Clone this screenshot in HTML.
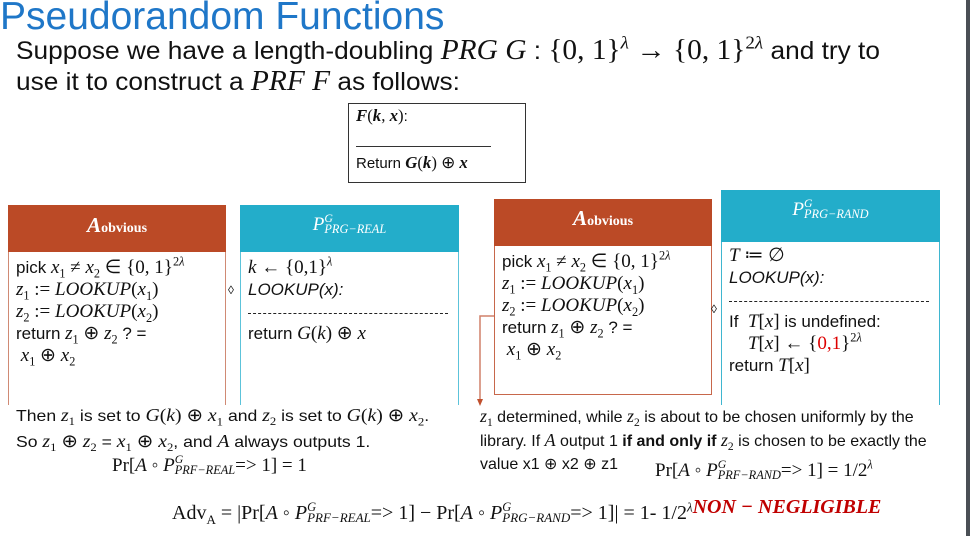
<!DOCTYPE html>
<html><head><meta charset="utf-8">
<style>
body{margin:0;width:970px;height:536px;position:relative;background:#fff;overflow:hidden;font-family:"Liberation Sans",sans-serif;color:#111}
.a{position:absolute;white-space:nowrap}
.m{font-family:"Liberation Serif",serif;font-style:italic;font-size:112%}
.r{font-family:"Liberation Serif",serif;font-size:112%}
.r .m,.m .r,.r .r{font-size:100%}
sub.r,sup.r{font-size:72%}
.hd{position:absolute;color:#fff;text-align:center}
.box{position:absolute;box-sizing:border-box}
.sx{transform-origin:0 0;display:inline-block}
sub,sup{font-size:65%;line-height:0}
.pp{display:inline-block;position:relative}
.pp .g{position:absolute;left:0;top:-2px;font-size:62%}
.pp .s{font-size:65%;vertical-align:-3px}
.dl{display:inline-block;width:200px;height:12px;border-bottom:1px dashed #222;vertical-align:top}
</style></head><body>
<div class="a" style="left:0;top:-5px;font-size:39px;color:#1f77c8">Pseudorandom Functions</div>
<div class="a" style="left:16px;top:35px;font-size:25px"><span class="sx" style="transform:scaleX(1.05)">Suppose we have a length-doubling <span class="m">PRG G</span> : <span class="r">{0, 1}<sup><i>λ</i></sup> → {0, 1}<sup>2<i>λ</i></sup></span> and try to</span></div>
<div class="a" style="left:16px;top:66px;font-size:25px"><span class="sx" style="transform:scaleX(1.05)">use it to construct a <span class="m">PRF F</span> as follows:</span></div>

<div class="box" style="left:348px;top:103px;width:178px;height:80px;border:1.5px solid #333"></div>
<div class="a" style="left:356px;top:106px;font-size:15px"><b class="m">F</b><span class="r">(<b><i>k</i></b>, <b><i>x</i></b>)</span>:</div>
<div class="a" style="left:356px;top:146px;width:135px;border-top:1px solid #333"></div>
<div class="a" style="left:356px;top:152px;font-size:15px">Return <b class="m">G</b><span class="r">(<b><i>k</i></b>) ⊕ <b><i>x</i></b></span></div>

<!-- left pair -->
<div class="box" style="left:8px;top:205px;width:218px;height:200px;border:1.5px solid #d08a74;border-bottom:none"></div>
<div class="box" style="left:8px;top:205px;width:218px;height:47px;background:#bb4a26"></div>
<div class="hd" style="left:8px;top:213px;width:218px;font-size:19px"><b class="m">A</b><b class="r" style="font-size:14px">obvious</b></div>
<div class="box" style="left:240px;top:205px;width:219px;height:200px;border:1.5px solid #5cc3da;border-bottom:none"></div>
<div class="box" style="left:240px;top:205px;width:219px;height:47px;background:#23adca"></div>
<div class="hd" style="left:240px;top:214px;width:219px;font-size:19px;font-family:'Liberation Serif',serif;font-style:italic">P<span class="pp"><span class="g">G</span><span class="s">PRG−REAL</span></span></div>
<div class="a" style="left:16px;top:257px;font-size:17px;line-height:22px">pick <span class="m">x</span><sub class="r">1</sub> <span class="r">≠</span> <span class="m">x</span><sub class="r">2</sub> <span class="r">∈ {0, 1}<sup>2<i>λ</i></sup></span><br>
<span class="m">z</span><sub class="r">1</sub> <span class="r">:=</span> <span class="m">LOOKUP</span><span class="r">(<i>x</i><sub>1</sub>)</span><br>
<span class="m">z</span><sub class="r">2</sub> <span class="r">:=</span> <span class="m">LOOKUP</span><span class="r">(<i>x</i><sub>2</sub>)</span><br>
return <span class="m">z</span><sub class="r">1</sub> <span class="r">⊕</span> <span class="m">z</span><sub class="r">2</sub> ? =<br>
&nbsp;<span class="m">x</span><sub class="r">1</sub> <span class="r">⊕</span> <span class="m">x</span><sub class="r">2</sub></div>
<div class="a" style="left:228px;top:283px;font-size:12px">◊</div>
<div class="a" style="left:248px;top:257px;font-size:17px;line-height:22px"><span class="m">k</span> <span class="r">← {0,1}<sup><i>λ</i></sup></span><br><i>LOOKUP(x):</i><br><span class="dl"></span><br>return <span class="m">G</span><span class="r">(<i>k</i>) ⊕ <i>x</i></span></div>

<!-- right pair -->
<div class="box" style="left:494px;top:199px;width:218px;height:196px;border:1.5px solid #c7674b"></div>
<div class="box" style="left:494px;top:199px;width:218px;height:47px;background:#bb4a26"></div>
<div class="hd" style="left:494px;top:206px;width:218px;font-size:19px"><b class="m">A</b><b class="r" style="font-size:14px">obvious</b></div>
<div class="box" style="left:721px;top:190px;width:219px;height:215px;border:1.5px solid #3fb6d0;border-bottom:none"></div>
<div class="box" style="left:721px;top:190px;width:219px;height:52px;background:#23adca"></div>
<div class="hd" style="left:721px;top:199px;width:219px;font-size:19px;font-family:'Liberation Serif',serif;font-style:italic">P<span class="pp"><span class="g">G</span><span class="s">PRG−RAND</span></span></div>
<div class="a" style="left:502px;top:251px;font-size:17px;line-height:22px">pick <span class="m">x</span><sub class="r">1</sub> <span class="r">≠</span> <span class="m">x</span><sub class="r">2</sub> <span class="r">∈ {0, 1}<sup>2<i>λ</i></sup></span><br>
<span class="m">z</span><sub class="r">1</sub> <span class="r">:=</span> <span class="m">LOOKUP</span><span class="r">(<i>x</i><sub>1</sub>)</span><br>
<span class="m">z</span><sub class="r">2</sub> <span class="r">:=</span> <span class="m">LOOKUP</span><span class="r">(<i>x</i><sub>2</sub>)</span><br>
return <span class="m">z</span><sub class="r">1</sub> <span class="r">⊕</span> <span class="m">z</span><sub class="r">2</sub> ? =<br>
&nbsp;<span class="m">x</span><sub class="r">1</sub> <span class="r">⊕</span> <span class="m">x</span><sub class="r">2</sub></div>
<div class="a" style="left:711px;top:302px;font-size:12px">◊</div>
<div class="a" style="left:729px;top:245px;font-size:17px;line-height:22px"><span class="m">T</span> <span class="r">≔ ∅</span><br><i>LOOKUP(x):</i><br><span class="dl"></span><br>If &nbsp;<span class="m">T</span><span class="r">[<i>x</i>]</span> is undefined:<br>&nbsp;&nbsp;&nbsp;&nbsp;<span class="m">T</span><span class="r">[<i>x</i>] ← {<span style="color:#d00">0,1</span>}<sup>2<i>λ</i></sup></span><br>return <span class="m">T</span><span class="r">[<i>x</i>]</span></div>
<svg class="a" style="left:0;top:0" width="970" height="536"><path d="M494 316H480V400" fill="none" stroke="#d0806a" stroke-width="1.5"/><path d="M477 399L483 399L480 406Z" fill="#c0502e"/><rect x="966" y="0" width="4" height="536" fill="#4a4f55"/></svg>

<!-- bottom text -->
<div class="a" style="left:16px;top:403px;font-size:16px;line-height:24px"><span class="sx" style="transform:scaleX(1.1)">Then <span class="m">z</span><sub class="r">1</sub> is set to <span class="m">G</span><span class="r">(<i>k</i>) ⊕ <i>x</i><sub>1</sub></span> and <span class="m">z</span><sub class="r">2</sub> is set to <span class="m">G</span><span class="r">(<i>k</i>) ⊕ <i>x</i><sub>2</sub></span>.<br>So <span class="m">z</span><sub class="r">1</sub> <span class="r">⊕</span> <span class="m">z</span><sub class="r">2</sub> = <span class="m">x</span><sub class="r">1</sub> <span class="r">⊕</span> <span class="m">x</span><sub class="r">2</sub>, and <span class="m">A</span> always outputs 1.</span></div>
<div class="a" style="left:112px;top:455px;font-size:19px;font-family:'Liberation Serif',serif">Pr[<i>A</i> ◦ <i>P</i><span class="pp"><i class="g">G</i><i class="s">PRF−REAL</i></span>=&gt; 1] = 1</div>
<div class="a" style="left:480px;top:405px;font-size:16px;line-height:23px"><span class="m">z</span><sub class="r">1</sub> determined, while <span class="m">z</span><sub class="r">2</sub> is about to be chosen uniformly by the<br>library. If <span class="m">A</span> output 1 <b>if and only if</b> <span class="m">z</span><sub class="r">2</sub> is chosen to be exactly the<br>value x1 ⊕ x2 ⊕ z1</div>
<div class="a" style="left:655px;top:460px;font-size:19px;font-family:'Liberation Serif',serif">Pr[<i>A</i> ◦ <i>P</i><span class="pp"><i class="g">G</i><i class="s">PRF−RAND</i></span>=&gt; 1] = 1/2<sup><i>λ</i></sup></div>
<div class="a" style="left:172px;top:496px;font-size:20px;font-family:'Liberation Serif',serif">Adv<sub>A</sub> = |Pr[<i>A</i> ◦ <i>P</i><span class="pp"><i class="g">G</i><i class="s">PRF−REAL</i></span>=&gt; 1] − Pr[<i>A</i> ◦ <i>P</i><span class="pp"><i class="g">G</i><i class="s">PRG−RAND</i></span>=&gt; 1]| = 1- 1/2<sup><i>λ</i></sup><b><i style="color:#c00000;vertical-align:6px">NON − NEGLIGIBLE</i></b></div>
</body></html>
